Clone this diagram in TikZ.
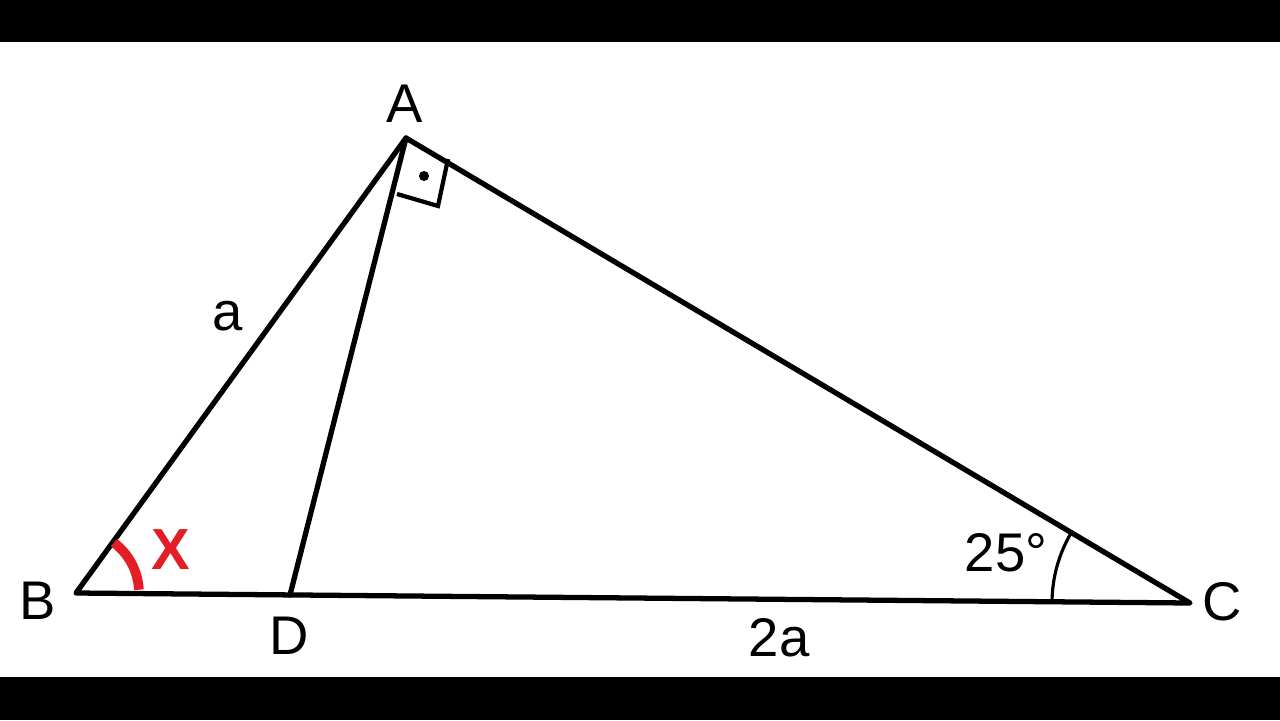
\documentclass[tikz,border=0pt]{standalone}
\usepackage{fontspec}
\setmainfont{Liberation Sans}
\usetikzlibrary{calc,positioning}

\definecolor{markred}{RGB}{228,30,38}
\tikzset{
    side/.style={line width=3pt, line cap=round, line join=round},
    lbl/.style={inner sep=0pt, font=\fontsize{31}{36}\selectfont},
}

\begin{document}
\begin{tikzpicture}[x=0.02cm, y=-0.02cm]
        % Frame
        \useasboundingbox (0,0) rectangle (1280,720);
        \fill [black] (0,0) rectangle (1280,42);
        \fill [black] (0,677) rectangle (1280,720);
        % Vertices
        \coordinate (A) at (406,138);
        \coordinate (B) at (76,593);
        \coordinate (C) at (1190,603);
        \coordinate (D) at (290,595);
        % Sides
        \draw [side] (B) -- (A) -- (C) -- cycle;
        \draw [side] (A) -- (D);
        % Right angle
        \draw [line width=2.4pt, line join=miter] (397,194) -- (438,206) -- (448,159);
        \fill (424,176) circle (5);
        % Angles
        \draw [markred, line width=5.5pt] ($(B)+(-3:63)$) arc (-3:-53:63);
        \draw [line width=1.8pt] ($(C)+(-179.5:138)$) arc (-179.5:-149.5:138);

        % Labels
        \node [lbl] (lA) at (405,104) {A};
        \node [lbl] (lB) at (38,601) {B};
        \node [lbl] (lC) at (1222,602) {C};
        \node [lbl] (lD) at (289,636) {D};
        \node [lbl] (la) at (228,316) {a};
        \node [lbl] (l2a) at (779,638) {2a};
        \node [lbl] (lang) at (1006,553) {25°};
        \node [lbl, markred, font=\fontsize{33}{36}\selectfont\bfseries] (lx) at (171,550) {X};
\end{tikzpicture}
\end{document}
